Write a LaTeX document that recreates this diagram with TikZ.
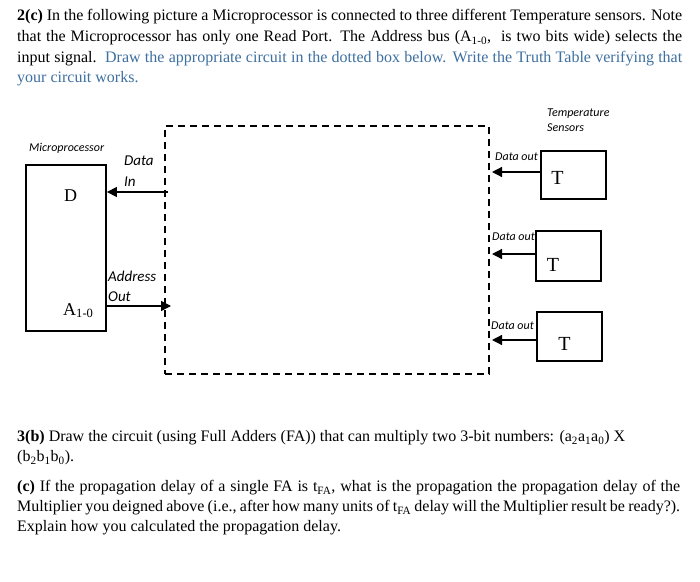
\documentclass[tikz,border=0pt]{standalone}
\usepackage{fontspec}
\setmainfont{Liberation Serif}
\newfontfamily\calfont{Carlito}
\usetikzlibrary{arrows.meta}
\definecolor{qblue}{RGB}{62,112,160}
\tikzset{
  para/.style={anchor=base west, inner sep=0pt, font=\fontsize{16}{19}\selectfont},
  lbl/.style={inner sep=0pt, font=\calfont\itshape\fontsize{15}{17}\selectfont},
  slbl/.style={inner sep=0pt, font=\calfont\itshape\fontsize{12}{14}\selectfont},
  box/.style={draw, line width=1.8pt, inner sep=0pt},
  arr/.style={line width=1.3pt, -{Triangle[length=10pt,width=10pt]}},
  dbox/.style={draw, line width=1.7pt, dash pattern=on 7pt off 5pt, inner sep=0pt}
}
\begin{document}
\begin{tikzpicture}[x=1pt,y=-1pt]
\fill[white] (0,0) rectangle (700,581);
\useasboundingbox (0,0) rectangle (700,581);
% top paragraph
\node[para] (p1) at (17,20.7) {\makebox[665pt][s]{\textbf{2(c)} In the following picture a Microprocessor is connected to three different Temperature sensors. Note}};
\node[para] (p2) at (17,41.5) {\makebox[665pt][s]{that the Microprocessor has only one Read Port. The Address bus (A\textsubscript{1-0},\ \ is two bits wide) selects the}};
\node[para] (p3) at (17,62) {\makebox[665pt][s]{input signal.\ \ \color{qblue}Draw the appropriate circuit in the dotted box below. Write the Truth Table verifying that}};
\node[para, text=qblue] (p4) at (17,82) {your circuit works.};
% bottom paragraphs
\node[para] (q1) at (17,441.7) {\textbf{3(b)} Draw the circuit (using Full Adders (FA)) that can multiply two 3-bit numbers: (a\textsubscript{2}a\textsubscript{1}a\textsubscript{0}) X};
\node[para] (q2) at (17,461.7) {(b\textsubscript{2}b\textsubscript{1}b\textsubscript{0}).};
\node[para] (q3) at (17,491.7) {\makebox[663pt][s]{\textbf{(c)} If the propagation delay of a single FA is t\textsubscript{FA}, what is the propagation the propagation delay of the}};
\node[para] (q4) at (17,511.5) {\makebox[663pt][s]{Multiplier you deigned above (i.e., after how many units of t\textsubscript{FA} delay will the Multiplier result be ready?).}};
\node[para] (q5) at (17,531.5) {Explain how you calculated the propagation delay.};
% microprocessor
\node[slbl, anchor=west] (mplbl) at (29,148) {Microprocessor};
\node[box, minimum width=80pt, minimum height=166pt] (mp) at (66,248) {};
\node[inner sep=0pt, font=\fontsize{18}{20}\selectfont] (D) at (70.5,196) {D};
\node[inner sep=0pt, anchor=base west, font=\fontsize{18}{20}\selectfont] (A) at (63,315) {A\textsubscript{1-0}};
% dashed box
\node[dbox, minimum width=324pt, minimum height=248pt] (db) at (327,250) {};
% labels on left side
\node[lbl, anchor=west] (ldata) at (124,161) {Data};
\node[lbl, anchor=west] (lin) at (124,182) {In};
\node[lbl, anchor=west] (laddr) at (108,276) {Address};
\node[lbl, anchor=west] (lout) at (108,297) {Out};
\coordinate (dinS) at (168,192);
\coordinate (aoutE) at (171,306);
\draw[arr] (dinS) -- (dinS -| mp.east);
\draw[arr] (aoutE -| mp.east) -- (aoutE);
% sensors
\node[slbl, anchor=west, align=left] (tslbl) at (547,120) {Temperature\\[1.5pt]Sensors};
\node[box, minimum width=65pt, minimum height=48pt] (T1) at (573.5,175) {};
\node[box, minimum width=65pt, minimum height=50pt] (T2) at (568.5,256) {};
\node[box, minimum width=65pt, minimum height=49pt] (T3) at (569.5,336.5) {};
\node[inner sep=0pt, font=\fontsize{20}{22}\selectfont] (t1) at (557.5,178) {T};
\node[inner sep=0pt, font=\fontsize{20}{22}\selectfont] (t2) at (553,265) {T};
\node[inner sep=0pt, font=\fontsize{20}{22}\selectfont] (t3) at (564.5,344) {T};
\node[slbl, anchor=west] (do1) at (495,157) {Data out};
\node[slbl, anchor=west] (do2) at (492,237) {Data out};
\node[slbl, anchor=west] (do3) at (491,326) {Data out};
\coordinate (s1) at (492,172);
\coordinate (s2) at (492,254);
\coordinate (s3) at (492,340);
\draw[arr] (s1 -| T1.west) -- (s1);
\draw[arr] (s2 -| T2.west) -- (s2);
\draw[arr] (s3 -| T3.west) -- (s3);
\end{tikzpicture}
\end{document}
